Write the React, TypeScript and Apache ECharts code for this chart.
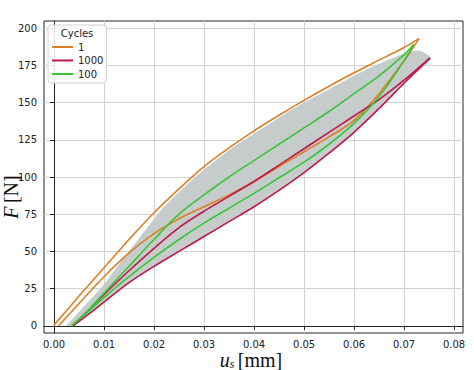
import React, { useEffect, useRef } from "react";
import * as echarts from "echarts";

type Pt = [number, number];

const xTicks = [0, 0.01, 0.02, 0.03, 0.04, 0.05, 0.06, 0.07, 0.08];
const yTicks = [0, 25, 50, 75, 100, 125, 150, 175, 200];
const cycleNames = ["1", "1000", "100"];
const cycleColors = ["#dc7f26", "#c0174b", "#38c636"];

// Cycle 1
const c1Upper: Pt[] = [
  [0.0, 0.5], [0.005, 20], [0.01, 39], [0.015, 58], [0.02, 76], [0.025, 92],
  [0.03, 107], [0.035, 119.5], [0.04, 131], [0.045, 141.5], [0.05, 151.5], [0.055, 161],
  [0.06, 170], [0.065, 178.5], [0.07, 187], [0.073, 193],
];
const c1Lower: Pt[] = [
  [0.0009, 0], [0.005, 15], [0.01, 33], [0.015, 49], [0.02, 62], [0.025, 72],
  [0.03, 80], [0.035, 88], [0.04, 97], [0.045, 107], [0.05, 117], [0.055, 127],
  [0.06, 138], [0.065, 156], [0.07, 178], [0.073, 193],
];
// Cycle 1000
const c1000Upper: Pt[] = [
  [0.0038, 0], [0.007, 11], [0.01, 21], [0.015, 37], [0.02, 52], [0.025, 66],
  [0.03, 77], [0.035, 87], [0.04, 97], [0.045, 108], [0.05, 119], [0.055, 130],
  [0.06, 141], [0.065, 152], [0.07, 165], [0.0752, 180],
];
const c1000Lower: Pt[] = [
  [0.0038, 0], [0.007, 8], [0.01, 16], [0.015, 29], [0.02, 40], [0.025, 50],
  [0.03, 60], [0.035, 70], [0.04, 80], [0.045, 91], [0.05, 103], [0.055, 116],
  [0.06, 130], [0.065, 146], [0.07, 163], [0.0752, 180],
];
// Cycle 100
const c100Upper: Pt[] = [
  [0.0035, 0], [0.007, 11], [0.01, 22], [0.015, 40], [0.02, 58], [0.025, 75],
  [0.03, 88], [0.035, 100], [0.04, 111], [0.045, 122], [0.05, 133], [0.055, 144],
  [0.06, 156], [0.065, 168], [0.07, 182], [0.0719, 189],
];
const c100Lower: Pt[] = [
  [0.0035, 0], [0.007, 10], [0.01, 19], [0.015, 33], [0.02, 46], [0.025, 58],
  [0.03, 69], [0.035, 79], [0.04, 89], [0.045, 99.5], [0.05, 110], [0.055, 122],
  [0.06, 136], [0.065, 154], [0.07, 178], [0.0719, 189],
];
// Grey envelope
const bandUpper: Pt[] = [
  [0.0024, 0], [0.006, 13], [0.01, 28], [0.014, 46], [0.018, 63], [0.022, 80],
  [0.025, 90], [0.03, 105], [0.035, 118], [0.04, 129], [0.045, 140], [0.05, 150],
  [0.055, 159], [0.06, 168], [0.065, 176], [0.07, 183], [0.0729, 185], [0.0752, 181],
];
const bandLower: Pt[] = [
  [0.0024, 0], [0.0038, 0], [0.007, 8], [0.01, 16], [0.015, 29], [0.02, 40],
  [0.025, 50], [0.03, 60], [0.035, 70], [0.04, 80], [0.045, 91], [0.05, 103],
  [0.055, 116], [0.06, 130], [0.065, 146], [0.07, 163], [0.0752, 178],
];

const branches: { name: string; color: string; data: Pt[] }[] = [
  { name: cycleNames[0], color: cycleColors[0], data: c1Upper },
  { name: cycleNames[0], color: cycleColors[0], data: c1Lower },
  { name: cycleNames[1], color: cycleColors[1], data: c1000Upper },
  { name: cycleNames[1], color: cycleColors[1], data: c1000Lower },
  { name: cycleNames[2], color: cycleColors[2], data: c100Upper },
  { name: cycleNames[2], color: cycleColors[2], data: c100Lower },
];

const FONT = "DejaVu Sans";

export default function App() {
  const ref = useRef<HTMLDivElement>(null);
  useEffect(() => {
    if (!ref.current) return;
    const chart = echarts.init(ref.current, undefined, { renderer: "svg" });
    const bandPoly = [...bandUpper, ...bandLower.slice().reverse()];
    const option: any = {
      animation: false,
      grid: {
        left: 44, right: 11, top: 21, bottom: 37,
        show: true, borderColor: "#222", borderWidth: 1, backgroundColor: "transparent",
      },
      xAxis: {
        type: "value", min: -0.002, max: 0.0818,
        axisLine: { show: true, lineStyle: { color: "#222", width: 1 } },
        axisTick: { show: true, length: 4, lineStyle: { color: "#222" }, customValues: xTicks },
        axisLabel: {
          customValues: xTicks, margin: 6, fontSize: 10, fontFamily: FONT, color: "#222",
          formatter: (v: number) => v.toFixed(2),
        },
        splitLine: { show: true, lineStyle: { color: "#d2d2d2", width: 1 } },
      },
      yAxis: {
        type: "value", min: -4.8, max: 204.8,
        axisLine: { show: true, lineStyle: { color: "#222", width: 1 } },
        axisTick: { show: true, length: 4, lineStyle: { color: "#222" }, customValues: yTicks },
        axisLabel: {
          customValues: yTicks, margin: 7, fontSize: 10, fontFamily: FONT, color: "#222",
          formatter: (v: number) => String(Math.round(v)),
        },
        splitLine: { show: true, lineStyle: { color: "#d2d2d2", width: 1 } },
      },
      legend: {
        data: cycleNames.map((n) => ({ name: n, icon: "rect" })),
        orient: "vertical", left: 48, top: 25,
        padding: [16, 3, 3, 4],
        itemWidth: 21, itemHeight: 2, itemGap: 1.5,
        textStyle: { fontSize: 10, fontFamily: FONT, color: "#222", lineHeight: 12 },
        backgroundColor: "rgba(255,255,255,0.85)",
        borderColor: "#d0d0d0", borderWidth: 1, borderRadius: 3,
        selectedMode: false,
      },
      graphic: [
        {
          type: "text", x: 77, y: 33.5, z: 100,
          style: { text: "Cycles", font: `10px ${FONT}`, fill: "#222", align: "center", verticalAlign: "middle" },
        },
        {
          type: "text", x: 11, y: 197, rotation: Math.PI / 2, z: 100,
          style: {
            text: "{i|F} {r|[N]}", align: "center", verticalAlign: "middle", fill: "#111",
            rich: {
              i: { fontFamily: "Liberation Serif", fontStyle: "italic", fontSize: 20, fill: "#111" },
              r: { fontFamily: "Liberation Serif", fontSize: 20, fill: "#111" },
            },
          },
        },
        {
          type: "text", x: 251, y: 350, z: 100,
          style: {
            text: "{u|u}{s|s} {r|[mm]}", align: "center", verticalAlign: "top", fill: "#111",
            rich: {
              u: { fontFamily: "Liberation Serif", fontStyle: "italic", fontSize: 20, lineHeight: 20, fill: "#111" },
              s: { fontFamily: "Liberation Serif", fontStyle: "italic", fontSize: 12, lineHeight: 11, verticalAlign: "bottom", fill: "#111" },
              r: { fontFamily: "Liberation Serif", fontSize: 20, lineHeight: 20, fill: "#111" },
            },
          },
        },
      ],
      series: [
        {
          type: "custom",
          name: "band",
          data: [[0, 0]],
          clip: true,
          z: 1,
          silent: true,
          renderItem: (_p: any, api: any) => ({
            type: "polygon",
            shape: { points: bandPoly.map((pt) => api.coord(pt)), smooth: 0.2 },
            style: { fill: "#c6cccb", stroke: "none" },
          }),
        },
        ...branches.map((b) => ({
          type: "line",
          name: b.name,
          data: b.data,
          color: b.color,
          symbol: "none",
          showSymbol: false,
          smooth: 0.35,
          lineStyle: { width: 1.6, color: b.color },
          z: 3,
        })),
      ],
    };
    chart.setOption(option);
    return () => chart.dispose();
  }, []);
  return (
    <div
      ref={ref}
      style={{ position: "fixed", left: 0, top: 0, width: 474, height: 370, background: "#fff" }}
    />
  );
}
